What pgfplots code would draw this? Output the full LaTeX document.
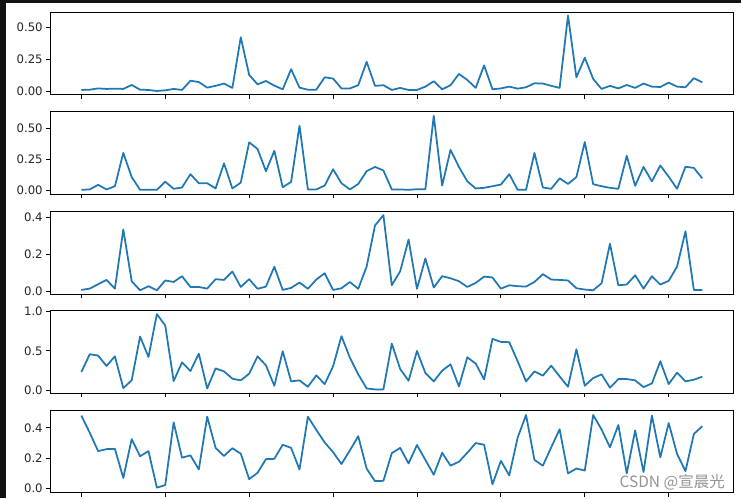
\documentclass[border=0pt]{standalone}
\usepackage{fontspec}
\setmainfont{DejaVu Sans}
\newfontfamily\cjk{Noto Sans CJK SC}
\usepackage{pgfplots}
\usepackage{pgfplotstable}
\pgfplotsset{compat=1.18}

\definecolor{mblue}{RGB}{31,119,180}

% index, then one column per panel (top to bottom)
\pgfplotstableread{
i p1 p2 p3 p4 p5
0 0.008 0.005 0.007 0.232 0.481
1 0.010 0.008 0.014 0.456 0.368
2 0.020 0.045 0.038 0.439 0.247
3 0.016 0.008 0.061 0.308 0.260
4 0.018 0.034 0.014 0.430 0.262
5 0.016 0.300 0.333 0.030 0.070
6 0.047 0.107 0.054 0.127 0.326
7 0.010 0.005 0.005 0.680 0.213
8 0.008 0.005 0.027 0.422 0.247
9 0.000 0.005 0.005 0.962 0.006
10 0.005 0.070 0.058 0.819 0.023
11 0.016 0.013 0.050 0.118 0.436
12 0.008 0.024 0.081 0.354 0.204
13 0.080 0.130 0.023 0.245 0.219
14 0.070 0.058 0.023 0.464 0.126
15 0.026 0.058 0.014 0.025 0.474
16 0.040 0.016 0.065 0.278 0.268
17 0.058 0.217 0.061 0.240 0.215
18 0.024 0.016 0.106 0.148 0.266
19 0.420 0.063 0.023 0.127 0.230
20 0.126 0.385 0.065 0.211 0.062
21 0.052 0.332 0.013 0.430 0.104
22 0.078 0.154 0.025 0.316 0.194
23 0.042 0.317 0.132 0.059 0.196
24 0.013 0.026 0.007 0.494 0.289
25 0.170 0.068 0.018 0.114 0.268
26 0.026 0.518 0.047 0.127 0.126
27 0.010 0.008 0.013 0.046 0.474
28 0.010 0.008 0.063 0.190 0.387
29 0.107 0.039 0.097 0.080 0.304
30 0.097 0.170 0.007 0.304 0.240
31 0.020 0.058 0.016 0.684 0.162
32 0.020 0.008 0.050 0.414 0.251
33 0.045 0.052 0.013 0.203 0.345
34 0.228 0.154 0.133 0.025 0.132
35 0.040 0.188 0.355 0.013 0.049
36 0.045 0.160 0.410 0.013 0.051
37 0.008 0.008 0.032 0.590 0.234
38 0.024 0.008 0.108 0.270 0.268
39 0.008 0.005 0.279 0.122 0.166
40 0.008 0.010 0.013 0.498 0.287
41 0.034 0.010 0.177 0.219 0.189
42 0.076 0.597 0.020 0.114 0.091
43 0.013 0.039 0.081 0.249 0.236
44 0.045 0.325 0.070 0.329 0.151
45 0.133 0.188 0.054 0.050 0.177
46 0.086 0.073 0.023 0.418 0.236
47 0.024 0.016 0.045 0.338 0.300
48 0.200 0.021 0.079 0.139 0.289
49 0.013 0.034 0.074 0.650 0.028
50 0.020 0.047 0.014 0.612 0.183
51 0.034 0.130 0.032 0.608 0.087
52 0.018 0.005 0.027 0.367 0.336
53 0.029 0.005 0.025 0.114 0.485
54 0.060 0.300 0.050 0.240 0.189
55 0.058 0.024 0.092 0.186 0.151
56 0.040 0.013 0.063 0.312 0.272
57 0.024 0.097 0.061 0.177 0.391
58 0.590 0.052 0.058 0.046 0.100
59 0.107 0.107 0.016 0.519 0.132
60 0.260 0.387 0.009 0.059 0.119
61 0.094 0.050 0.005 0.156 0.485
62 0.016 0.034 0.043 0.203 0.389
63 0.040 0.021 0.256 0.034 0.272
64 0.020 0.013 0.032 0.143 0.419
65 0.047 0.277 0.036 0.143 0.100
66 0.024 0.037 0.086 0.127 0.383
67 0.058 0.188 0.014 0.042 0.109
68 0.034 0.073 0.081 0.089 0.481
69 0.031 0.200 0.036 0.367 0.206
70 0.065 0.110 0.056 0.080 0.432
71 0.034 0.013 0.133 0.224 0.228
72 0.029 0.190 0.323 0.114 0.115
73 0.100 0.180 0.007 0.135 0.360
74 0.068 0.097 0.007 0.173 0.411
}\data

\pgfplotsset{
  panel/.style={
    scale only axis,
    width=683pt, height=82.5pt,
    anchor=north west,
    xmin=-3.7, xmax=77.7,
    xtick={0,10,...,70}, xticklabels={},
    tick pos=left, tick align=outside,
    major tick length=4.1pt,
    every tick/.style={black, line width=0.9pt},
    axis line style={black, line width=0.9pt},
    tick label style={font=\fontsize{11.7pt}{14pt}\selectfont, text=black!85},
    /pgf/number format/assume math mode=true,
    yticklabel style={/pgf/number format/.cd, fixed, fixed zerofill},
  },
  bluel/.style={mblue, line width=1.75pt, line join=round, no marks},
}

\begin{document}
\begin{tikzpicture}
\useasboundingbox (0pt,0pt) rectangle (741pt,-498pt);
\fill[black!93] (0pt,0pt) rectangle (6pt,-498pt);
\fill[black!93] (0pt,0pt) rectangle (741pt,-3.3pt);

\begin{axis}[panel, at={(50.3pt,-12.3pt)}, ymin=-0.03, ymax=0.615,
  ytick={0,0.25,0.5}, yticklabel style={/pgf/number format/precision=2}]
  \addplot[bluel] table[x=i, y=p1] {\data};
\end{axis}

\begin{axis}[panel, at={(50.3pt,-111.7pt)}, ymin=-0.03, ymax=0.63,
  ytick={0,0.25,0.5}, yticklabel style={/pgf/number format/precision=2}]
  \addplot[bluel] table[x=i, y=p2] {\data};
\end{axis}

\begin{axis}[panel, at={(50.3pt,-211.5pt)}, ymin=-0.015, ymax=0.43,
  ytick={0,0.2,0.4}, yticklabel style={/pgf/number format/precision=1}]
  \addplot[bluel] table[x=i, y=p3] {\data};
\end{axis}

\begin{axis}[panel, at={(50.3pt,-310.7pt)}, ymin=-0.035, ymax=1.005,
  ytick={0,0.5,1}, yticklabel style={/pgf/number format/precision=1}]
  \addplot[bluel] table[x=i, y=p4] {\data};
\end{axis}

\begin{axis}[panel, at={(50.3pt,-410.3pt)}, ymin=-0.028, ymax=0.516,
  ytick={0,0.2,0.4}, yticklabel style={/pgf/number format/precision=1}]
  \addplot[bluel] table[x=i, y=p5] {\data};
\end{axis}

\node[anchor=east, text=black!42, font=\cjk\fontsize{15.5pt}{18pt}\selectfont,
  inner sep=0pt] at (725pt,-482pt) {CSDN @宣晨光};
\end{tikzpicture}
\end{document}
